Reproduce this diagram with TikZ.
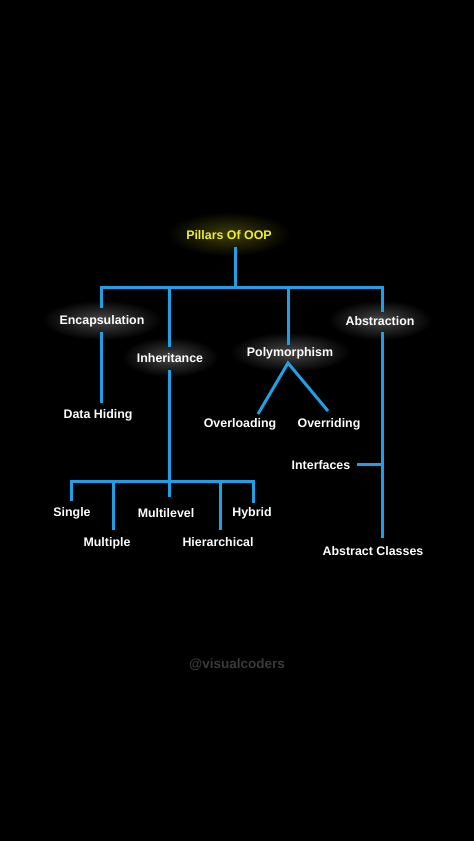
\documentclass[tikz,border=0pt]{standalone}
\usepackage{fontspec}
\setmainfont{Liberation Sans}
\begin{document}
\begin{tikzpicture}[x=1pt,y=-1pt,
  lbl/.style={text=white,font=\bfseries\fontsize{12.4}{13}\selectfont,inner sep=0pt,yshift=-1.5pt},
  ttl/.style={text=titleyellow,font=\bfseries\fontsize{12.4}{13}\selectfont,inner sep=0pt,yshift=-1pt},
  wire/.style={draw=wireblue,line width=3pt},
  glow/.style={inner color=white!28!black,outer color=black}]
\definecolor{titleyellow}{HTML}{F0F02A}
\definecolor{wireblue}{HTML}{1E9FE6}
\definecolor{wmgray}{HTML}{3A3A3A}
\fill[black] (0,0) rectangle (474,841);
\useasboundingbox (0,0) rectangle (474,841);
% glows
\shade[inner color=titleyellow!26!black,outer color=black] (229,234) ellipse [x radius=62, y radius=22];
\foreach \x/\y/\rr in {102/320/60,170/357/48,290/352/60,380/320/52}
  \shade[glow] (\x,\y) ellipse [x radius=\rr, y radius=20];
% labels
\node[ttl] (pillars) at (229,234) {Pillars Of OOP};
\node[lbl] (encap) at (102,320) {Encapsulation};
\node[lbl] (inher) at (170,357) {Inheritance};
\node[lbl] (poly) at (290,352) {Polymorphism};
\node[lbl] (abstr) at (380,320) {Abstraction};
\node[lbl] (datah) at (98,414) {Data Hiding};
\node[lbl] (overl) at (240,423) {Overloading};
\node[lbl] (overr) at (329,423) {Overriding};
\node[lbl] (intf) at (321,464) {Interfaces};
\node[lbl] (absc) at (373,550) {Abstract Classes};
\node[lbl] (single) at (72,512) {Single};
\node[lbl] (multiple) at (107,542) {Multiple};
\node[lbl] (multilevel) at (166,512) {Multilevel};
\node[lbl] (hier) at (218,541) {Hierarchical};
\node[lbl] (hybrid) at (252,512) {Hybrid};
\node[text=wmgray,font=\bfseries\fontsize{13.5}{14}\selectfont,inner sep=0pt] (wm) at (237,665) {@visualcoders};
% coordinates
\coordinate (t0) at (235,247);
\coordinate (t1) at (235,287);
\coordinate (bl) at (101,287);
\coordinate (br) at (382,287);
\coordinate (e1) at (101,308);
\coordinate (i0) at (169,287);
\coordinate (i1) at (169,347);
\coordinate (p0) at (288,287);
\coordinate (p1) at (288,345);
\coordinate (a1) at (382,312);
\coordinate (e2) at (101,332);
\coordinate (e3) at (101,403);
\coordinate (pa) at (288,363);
\coordinate (pl) at (258,414);
\coordinate (pr) at (328,411);
\coordinate (i2) at (169,370);
\coordinate (i3) at (169,497);
\coordinate (ib) at (169,481);
\coordinate (a2) at (382,332);
\coordinate (a3) at (382,538);
\coordinate (ai) at (382,464);
\coordinate (if) at (357,464);
\coordinate (sL) at (71,481);
\coordinate (sR) at (253,481);
\coordinate (s1) at (71,501);
\coordinate (m0) at (113,481);
\coordinate (m1) at (113,530);
\coordinate (h0) at (220,481);
\coordinate (h1) at (220,530);
\coordinate (y1) at (253,503);
% wires
\draw[wire] (t0) -- (t1);
\draw[wire] (e1) -- (bl) -- (br) -- (a1);
\draw[wire] (i0) -- (i1);
\draw[wire] (p0) -- (p1);
\draw[wire] (e2) -- (e3);
\draw[wire] (pl) -- (pa) -- (pr);
\draw[wire] (i2) -- (i3);
\draw[wire] (a2) -- (a3);
\draw[wire] (if) -- (ai);
\draw[wire] (s1) -- (sL) -- (sR) -- (y1);
\draw[wire] (m0) -- (m1);
\draw[wire] (h0) -- (h1);
\end{tikzpicture}
\end{document}
